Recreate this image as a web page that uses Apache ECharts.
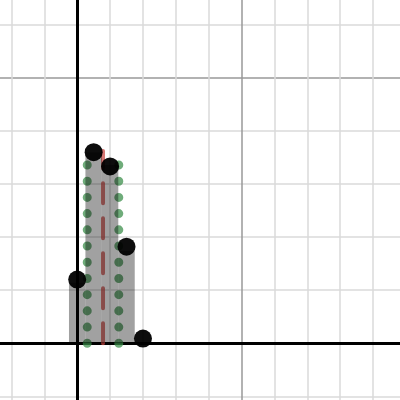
<!DOCTYPE html>
<html>
<head>
<meta charset="utf-8">
<script src="https://cdn.jsdelivr.net/npm/echarts@6/dist/echarts.min.js"></script>
<style>
  html, body { margin: 0; padding: 0; background: #fff; }
  #chart { width: 400px; height: 400px; }
</style>
</head>
<body>
<div id="chart"></div>
<script>
// histogram bars
const barX = [0, 1, 2, 3];
const barHeights = [0.114, 0.36, 0.336, 0.174];
// black points
const pointX = [0, 1, 2, 3, 4];
const pointY = [0.12, 0.36, 0.333, 0.182, 0.009];
// mean line (red) and mean +/- sd lines (green)
const meanX = 1.57;
const meanTop = 0.362;
const sdX = [0.61, 2.53];
const sdTop = 0.336;

// axis window, chosen so min is a multiple of interval
const xMin = -10, xMax = 20, xStep = 10;
const yMin = -0.5, yMax = 1.0, yStep = 0.5;

const chart = echarts.init(document.getElementById('chart'));

// place origin at (77.2, 343.3) px
const pxX = 16.44, pxY = 531;
const originX = 77.2, originY = 343.3;
const gridLeft = originX + xMin * pxX;
const gridRight = 400 - (originX + xMax * pxX);
const gridTop = originY - yMax * pxY;
const gridBottom = 400 - (originY - yMin * pxY);

const axisCommon = {
  type: 'value',
  axisLine: { show: true, onZero: true, lineStyle: { color: '#000', width: 3 } },
  axisTick: { show: false },
  axisLabel: { show: false },
  splitLine: { show: true, lineStyle: { color: '#999', width: 1.5 } },
  minorTick: { show: false, splitNumber: 5 },
  minorSplitLine: { show: true, lineStyle: { color: '#dadada', width: 1.5 } },
};

// lines sit under the bars, the bars tint them
const sdSeries = sdX.map((x) => ({
  type: 'line',
  data: [[x, 0], [x, sdTop]],
  symbol: 'none',
  z: 2,
  lineStyle: {
    color: 'rgba(56,140,70,0.72)',
    width: 9,
    type: [0.01, 16.2],
    cap: 'round',
  },
}));

chart.setOption({
  animation: false,
  grid: {
    left: gridLeft,
    right: gridRight,
    top: gridTop,
    bottom: gridBottom,
    containLabel: false,
    outerBoundsMode: 'none',
  },
  xAxis: Object.assign({}, axisCommon, { min: xMin, max: xMax, interval: xStep }),
  yAxis: Object.assign({}, axisCommon, { min: yMin, max: yMax, interval: yStep }),
  series: [
    {
      type: 'line',
      data: [[meanX, 0], [meanX, meanTop]],
      symbol: 'none',
      z: 2,
      lineStyle: {
        color: 'rgba(199,68,64,0.72)',
        width: 4,
        type: [20, 15],
        cap: 'round',
      },
    },
    ...sdSeries,
    {
      type: 'bar',
      data: barX.map((x, i) => [x, barHeights[i]]),
      barWidth: pxX,
      z: 3,
      itemStyle: { color: 'rgba(0,0,0,0.37)' },
    },
    {
      type: 'scatter',
      data: pointX.map((x, i) => [x, pointY[i]]),
      symbolSize: 18,
      z: 4,
      itemStyle: { color: '#000', opacity: 0.95 },
    },
  ],
});
</script>
</body>
</html>
